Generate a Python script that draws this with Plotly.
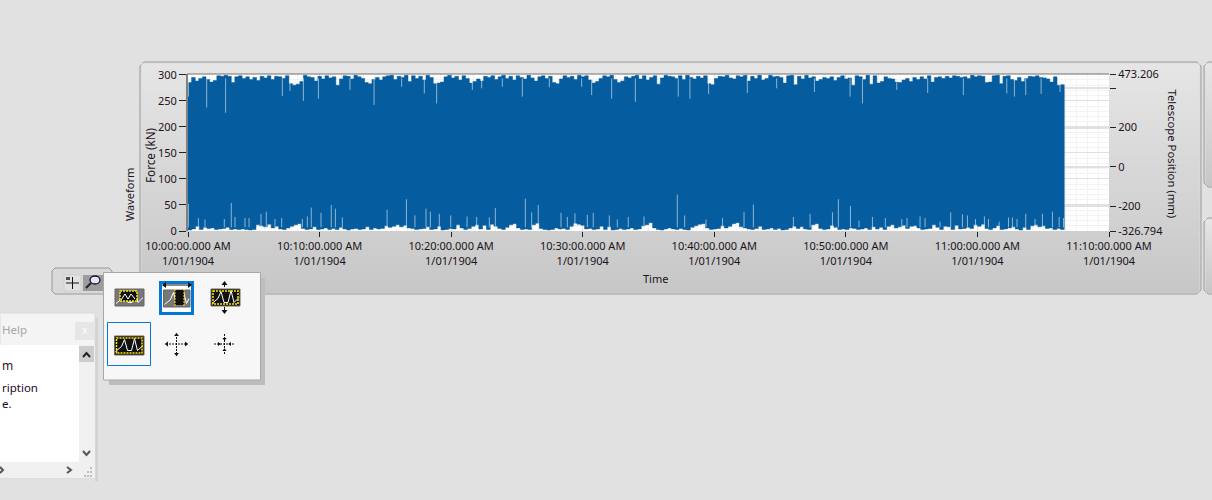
import plotly.graph_objects as go

W, H = 1212, 500
BLUE = "#055C9E"
FONT = "Noto Sans"
INK = "#1B1420"

# ---------- data ----------
data_end_min = 66.6
force_upper = [
 285,295,288,293,296,291,286,289,298,297,299,297,285,296,298,293,296,291,295,289,297,294,298,291,297,296,293,298,283,280,282,287,
 299,296,295,288,297,292,298,294,296,280,292,298,297,292,299,296,293,285,283,291,295,290,296,298,299,291,297,295,299,287,298,293,
 297,290,299,295,283,284,286,296,299,294,297,290,298,293,284,287,
 292,288,297,295,298,291,296,299,293,297,290,298,295,292,299,294,288,296,298,293,297,285,283,292,298,295,297,291,299,296,298,290,
 284,287,293,298,296,299,291,285,288,296,294,297,299,292,298,290,295,298,282,294,299,297,296,293,298,291,299,295,292,297,294,298,
 283,281,293,297,296,299,294,292,298,296,299,288,297,293,299,
 290,293,299,296,297,295,284,298,299,281,297,292,299,294,296,288,291,295,293,296,289,295,298,292,294,280,298,296,291,299,282,298,
 284,287,296,293,292,286,285,290,293,287,295,291,296,292,298,286,295,296,293,297,294,298,297,295,296,293,299,
 296,298,297,285,286,298,299,283,297,298,291,289,295,287,293,297,296,298,295,294,292,286,296,280,281,272,
]
force_lower = [
 3,2,4,9,3,7,5,6,3,4,5,7,3,4,3,4,3,2,3,12,10,8,13,6,9,4,3,6,9,12,14,5,3,4,8,3,4,6,3,5,3,7,4,2,4,5,3,4,8,
 3,6,4,5,10,7,9,12,8,11,6,5,3,4,5,8,3,4,9,2,3,5,4,12,6,3,5,9,12,4,11,
 3,13,9,5,3,7,12,14,6,3,4,3,12,15,5,3,2,3,6,4,5,3,9,15,13,11,4,5,3,4,9,3,8,2,3,5,3,4,6,3,4,10,12,16,6,3,2,4,6,4,3,5,3,2,
 7,10,13,14,6,3,4,5,10,6,9,14,16,8,6,4,3,5,9,3,4,6,3,5,2,3,6,9,5,8,4,3,12,14,5,3,4,11,7,3,4,
 3,6,5,3,4,6,3,8,4,7,3,9,12,6,8,11,5,9,10,6,3,4,5,12,7,3,9,8,3,11,4,5,7,5,12,9,13,5,3,6,10,3,4,6,8,4,2,7,3,10,12,8,10,5,6,3,5,3,
]
spike_top_min = [0.03,1.42,2.86,7.17,7.75,8.77,9.91,12.31,14.14,16.24,17.96,18.90,21.61,22.32,23.89,25.41,27.46,29.92,30.68,32.2,34.0,37.26,38.15,39.57,42.51,44.74,47.61,50.32,51.26,53.87,56.22,58.93,62.23,62.81,63.67,64.84,66.28]
spike_top_kn = [258,237,227,259,269,250,254,271,242,277,264,245,271,274,277,258,276,277,261,254,248,258,254,263,265,274,267,258,245,271,265,261,264,258,261,263,267]
spike_low_min = [0.03,0.79,1.29,2.76,3.29,3.57,4.33,4.64,5.55,5.95,6.61,7.12,8.69,9.07,9.37,10.11,10.89,11.2,11.73,15.13,16.6,17.25,18.09,18.42,19.1,19.97,21.21,21.94,22.9,23.36,25.64,26.12,26.62,28.35,28.83,29.41,30.35,30.8,32.02,32.63,33.46,34.66,37.19,37.75,39.37,40.63,42.26,42.97,46.01,47.28,48.98,49.43,50.35,51.0,52.02,53.0,54.25,54.65,55.64,56.02,57.16,57.97,58.86,59.24,59.85,60.53,60.84,61.65,62.36,62.66,63.01,63.67,64.38,64.94,65.7,66.21,66.54]
spike_low_kn = [52,25,22,23,54,27,25,25,33,37,23,25,23,28,45,35,50,43,26,41,61,30,43,37,33,30,28,27,26,44,62,36,50,35,27,34,31,35,30,22,27,28,70,30,22,25,37,51,27,33,36,61,48,20,27,25,23,25,28,25,18,36,32,30,23,28,23,18,26,26,23,33,23,33,37,27,25]
time_ticks_min = [0, 10, 20, 30, 40, 50, 60, 70]
time_labels = ["10:00:00.000 AM", "10:10:00.000 AM", "10:20:00.000 AM", "10:30:00.000 AM",
               "10:40:00.000 AM", "10:50:00.000 AM", "11:00:00.000 AM", "11:10:00.000 AM"]
time_date = "1/01/1904"
force_ticks = [0, 50, 100, 150, 200, 250, 300]
position_ticks = [-326.794, -200, 0, 200, 400, 473.206]
position_labels = ["-326.794", "-200", "0", "200", "", "473.206"]

# ---------- pixel helpers for the window chrome ----------
shapes, notes = [], []
def px(x): return x / W
def py(y): return 1 - y / H
def rect(x0, y0, x1, y1, fill, line=None, lw=1):
    shapes.append(dict(type="rect", xref="paper", yref="paper", x0=px(x0), x1=px(x1), y0=py(y0), y1=py(y1),
                       fillcolor=fill, line=dict(color=line or fill, width=lw if line else 0), layer="below"))
def poly(points, fill=None, line=None, lw=1, dash=None, close=False):
    d = "M" + " L".join(f"{px(a):.5f},{py(b):.5f}" for a, b in points) + (" Z" if close else "")
    shapes.append(dict(type="path", xref="paper", yref="paper", path=d, fillcolor=fill or "rgba(0,0,0,0)",
                       line=dict(color=line or "rgba(0,0,0,0)", width=lw, dash=dash or "solid"), layer="below"))
def text(x, y, s, color=INK, size=11, anchor="left", angle=0):
    notes.append(dict(xref="paper", yref="paper", x=px(x), y=py(y), text=s, showarrow=False, textangle=angle,
                      xanchor=anchor, yanchor="middle", font=dict(family=FONT, size=size, color=color)))
def rounded(x0, y0, x1, y1, r, fill, line):
    pts = [(x0 + r, y0), (x1 - r, y0), (x1, y0 + r), (x1, y1 - r), (x1 - r, y1), (x0 + r, y1), (x0, y1 - r), (x0, y0 + r)]
    poly(pts, fill=fill, line=line, close=True)

# panels
def panel(x0, y0, x1, y1):
    n = 32
    rounded(x0, y0, x1, y1, 4, "#DDDDDD", "#9A9A9A")
    for i in range(n):
        v = int(230 - (230 - 199) * (i + 0.5) / n)
        rect(x0 + 1.5, y0 + 1.5 + (y1 - y0 - 3) * i / n, x1 - 1.5, y0 + 1.5 + (y1 - y0 - 3) * (i + 1) / n + 0.5, f"rgb({v},{v},{v})")
rect(0, 0, W, H, "#E1E1E1")
panel(140, 62, 1201, 294)
panel(1204, 62, 1216, 187)
panel(1204, 218, 1216, 294)
rect(188, 74, 1109, 231, "#FFFFFF")

# palette toolbar
rounded(52, 268, 112, 294, 3, "#D9D9D9", "#9A9A9A")
rect(64, 275, 81, 291, "#E2E2E2", "#CFCFCF")
poly([(66, 283), (79, 283)], line="#111111")
poly([(72.5, 277), (72.5, 289)], line="#111111")
rect(66, 277, 70, 280, "#3A5A3A")
rect(83, 275, 104, 291, "#9C9C9C")
shapes.append(dict(type="circle", xref="paper", yref="paper", x0=px(90), x1=px(100), y0=py(284), y1=py(276),
                   fillcolor="#E6E6F2", line=dict(color="#111133", width=1.3), layer="below"))
poly([(91, 283), (86, 288)], line="#222222", lw=2)

# help window
rect(98, 318, 95, 481, "#D2D2D2")
rect(0, 313, 95, 478, "#F4F4F4", "#DADADA")
rect(0, 345, 79, 462, "#FFFFFF")
rect(75, 322, 94, 340, "#E6E6E6")
text(84.5, 330, "x", "#FFFFFF", 10, "center")
text(0, 329, "Help", "#A6A6A6", 11.5)
text(0, 365, "m", "#3A0A2A", 12)
text(0, 387, "ription", "#1A0A2A", 11.5)
text(0, 403, "e.", "#1A0A2A", 11.5)
rect(79, 345, 95, 462, "#F0F0F0")
rect(79, 346, 94, 362, "#CDCDCD")
poly([(83, 357), (86.5, 353), (90, 357)], line="#222222", lw=2)
poly([(83, 451), (86.5, 455), (90, 451)], line="#555555", lw=2)
rect(0, 462, 95, 478, "#F0F0F0")
poly([(0, 467), (3, 470), (0, 473)], line="#555555", lw=2)
poly([(67, 467), (71, 470), (67, 473)], line="#555555", lw=2)
for gx, gy in [(91, 468), (88, 472), (91, 472), (85, 476), (88, 476), (91, 476)]:
    rect(gx - 1, gy - 1, gx + 1, gy + 1, "#BDBDBD")

# zoom pop-up
rect(109, 278, 265, 385, "#BDBDBD")
rect(103.5, 272.5, 260.5, 380, "#F7F7F7", "#A8A8A8")
rect(160.5, 282.5, 192.5, 313.5, "#FFFFFF", "#0078D7", 3)
rect(107.5, 322.5, 150.5, 365.5, "#F7F7F7", "#0078D7", 1)

def trace_icon(x0, y0, x1, y1, bg, wave="#FFFFFF"):
    rect(x0, y0, x1, y1, bg, "#666666")
    m = (y0 + y1) / 2
    poly([(x0 + 1, m + 6), (x0 + 7, m + 1), (x0 + 10, m - 6), (x0 + 13, m + 5), (x0 + 17, m + 5), (x0 + 20, m - 7), (x0 + 23, m + 5), (x1 - 1, m)], line=wave)
def dashed(x0, y0, x1, y1):
    poly([(x0, y0), (x1, y0), (x1, y1), (x0, y1)], line="#FFE800", lw=1.5, dash="2px,1px", close=True)
def arrow(x, y, dx, dy, s=1.0):
    poly([(x + dx * 4 * s, y + dy * 4 * s), (x - dy * 3 * s, y - dx * 3 * s), (x + dy * 3 * s, y + dx * 3 * s)], fill="#111111", close=True)

trace_icon(115, 289, 144, 306, "#777777")
rect(120, 291, 137, 301, "#111111")
dashed(120, 291, 137, 301)
poly([(121, 300), (125, 294), (128, 299), (131, 294), (135, 299)], line="#FFFFFF")
trace_icon(163.5, 290, 190, 307, "#777777")
rect(175, 290, 184, 305, "#111111")
poly([(175, 289), (175, 306)], line="#FFE800", dash="2px,1px")
poly([(184, 289), (184, 306)], line="#FFE800", dash="2px,1px")
poly([(163, 285), (190, 285)], line="#111111")
arrow(166, 285, -1, 0); arrow(188, 285, 1, 0)
trace_icon(211, 289, 240, 306, "#111111")
dashed(213, 291, 238, 304)
poly([(224.5, 287), (224.5, 283)], line="#111111"); arrow(224.5, 285, 0, -1)
poly([(224.5, 307), (224.5, 311)], line="#111111"); arrow(224.5, 310, 0, 1)
trace_icon(114.5, 336, 144, 355, "#111111")
dashed(116.5, 338, 142, 353)
poly([(166, 344), (186, 344)], line="#111111", dash="2px,1px")
poly([(176.5, 334), (176.5, 355)], line="#111111", dash="2px,1px")
arrow(168, 344, -1, 0, .8); arrow(185, 344, 1, 0, .8); arrow(176.5, 336, 0, -1, .8); arrow(176.5, 353, 0, 1, .8)
poly([(214, 344), (234, 344)], line="#111111", dash="2px,1px")
poly([(224.5, 334), (224.5, 355)], line="#111111", dash="2px,1px")
arrow(218, 344, 1, 0, .7); arrow(231, 344, -1, 0, .7); arrow(224.5, 338, 0, 1, .7); arrow(224.5, 351, 0, -1, .7)

# axis captions
text(129, 195, "Waveform", size=11, anchor="center", angle=-90)
text(150, 155, "Force (kN)", size=11.7, anchor="center", angle=-90)
text(1172, 153.5, "Telescope Position (mm)", size=11.3, anchor="center", angle=90)
text(655, 278, "Time", size=11, anchor="center")

# ---------- data marks ----------
times = [round(i * data_end_min / (len(force_upper) - 1), 2) for i in range(len(force_upper))]
low_times = [round(i * data_end_min / (len(force_lower) - 1), 2) for i in range(len(force_lower))]

def spike_lines(mins, vals, base):
    xs, ys = [], []
    for m, v in zip(mins, vals):
        xs += [m, m, None]
        ys += [base, v, None]
    return xs, ys

fig = go.Figure()
fig.add_trace(go.Scatter(x=times + low_times[::-1], y=force_upper + force_lower[::-1], mode="lines", fill="toself",
                         fillcolor=BLUE, line=dict(color=BLUE, width=0.5, shape="hv"), hoverinfo="skip", showlegend=False))
sx, sy = spike_lines(spike_top_min, spike_top_kn, 293)
fig.add_trace(go.Scatter(x=sx, y=sy, mode="lines", line=dict(color="rgba(225,235,245,0.62)", width=1), showlegend=False))
sx, sy = spike_lines(spike_low_min, spike_low_kn, 7)
fig.add_trace(go.Scatter(x=sx, y=sy, mode="lines", line=dict(color="rgba(225,235,245,0.62)", width=1), showlegend=False))
fig.add_trace(go.Scatter(x=[None], y=[None], yaxis="y2", showlegend=False))

grid_major = "#E1E1E1"
grid_minor = "#F3F3F3"
fig.update_layout(
    width=W, height=H, margin=dict(l=0, r=0, t=0, b=0, autoexpand=False), autosize=False,
    paper_bgcolor="rgba(0,0,0,0)", plot_bgcolor="#FFFFFF",
    font=dict(family=FONT, size=11, color=INK), shapes=shapes, annotations=notes,
    xaxis=dict(domain=[px(188), px(1109)], range=[0, 70], tickmode="array", tickvals=time_ticks_min, automargin=False,
               ticktext=[f"{t}<br>{time_date}" for t in time_labels], ticks="outside", ticklen=5, tickcolor="#222222",
               showgrid=True, gridcolor=grid_major, zeroline=False, showline=False,
               minor=dict(dtick=10 / 12, showgrid=True, gridcolor=grid_minor, ticks=""), anchor="y"),
    yaxis=dict(domain=[py(231), py(74)], range=[0, 301.5], tickmode="array", tickvals=force_ticks, automargin=False,
               ticks="outside", ticklen=7, tickcolor="#222222", showgrid=True, gridcolor=grid_major, gridwidth=1,
               minor=dict(dtick=10, showgrid=True, gridcolor=grid_minor, ticks=""),
               zeroline=False, showline=True, linecolor="#808080", linewidth=2, mirror=False),
    yaxis2=dict(overlaying="y", side="right", range=[-326.794, 473.206], tickmode="array", automargin=False,
                tickvals=position_ticks, ticktext=position_labels, ticks="outside", ticklen=6, tickcolor="#222222",
                showgrid=True, gridcolor=grid_major, gridwidth=2, zeroline=False, showline=False, anchor="x"),
)
# thin top frame of the plot area
fig.add_shape(type="line", xref="paper", yref="paper", x0=px(187), x1=px(1109), y0=py(74), y1=py(74),
              line=dict(color="#707070", width=1), layer="above")
fig.write_html("out.html", config=dict(displayModeBar=False),
               post_script="document.body.style.margin='0';document.body.style.overflow='hidden';")
